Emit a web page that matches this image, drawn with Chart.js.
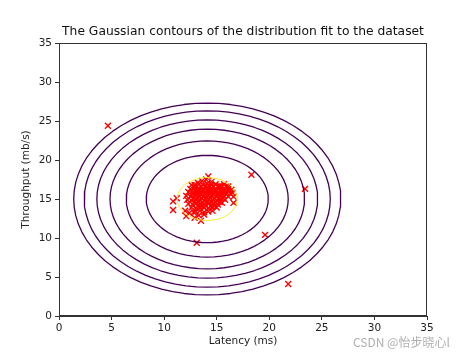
<!DOCTYPE html>
<html>
<head>
<meta charset="utf-8">
<script src="https://cdn.jsdelivr.net/npm/chart.js@4.4.0/dist/chart.umd.min.js"></script>
<style>
  html, body { margin: 0; padding: 0; background: #fff; }
  #wrap { width: 474px; height: 355px; position: relative; }
</style>
</head>
<body>
<div id="wrap"><canvas id="chart"></canvas></div>
<script>
// Axis ticks
const xTicks = [0, 5, 10, 15, 20, 25, 30, 35];
const yTicks = [0, 5, 10, 15, 20, 25, 30, 35];

// Samples (latency ms / throughput mb/s)
const latency = [
  4.65, 18.3, 23.4, 19.6, 21.8, 13.1, 10.85, 10.85, 11.2, 12.0, 12.1, 12.9, 13.5, 16.6, 16.6, 16.5, 12.6, 14.2,
  13.6, 14.0, 14.5, 13.2,
  12.9, 13.3, 13.7, 14.1, 14.5, 14.9, 15.3, 15.7, 16.1,
  13.1, 13.5, 13.9, 14.3, 14.7, 15.1, 15.5, 15.9,
  12.5, 12.9, 13.3, 13.7, 14.1, 14.5, 14.9, 15.3, 15.7, 16.1, 16.4,
  12.9, 13.3, 13.7, 14.1, 14.5, 14.9, 15.3, 15.7, 16.1,
  12.3, 12.7, 13.1, 13.5, 13.9, 14.3, 14.7, 15.1, 15.5, 15.9, 16.3,
  12.7, 13.1, 13.5, 13.9, 14.3, 14.7, 15.1, 15.5, 15.9,
  12.1, 12.5, 12.9, 13.3, 13.7, 14.1, 14.5, 14.9, 15.3, 15.7, 16.1,
  12.8, 13.2, 13.6, 14.0, 14.4, 14.8, 15.2, 15.6,
  12.2, 12.6, 13.0, 13.4, 13.8, 14.2, 14.6, 15.0, 15.4, 15.8,
  12.9, 13.3, 13.7, 14.1, 14.5, 14.9, 15.3,
  12.3, 12.7, 13.1, 13.5, 13.9, 14.3, 14.7, 15.1, 15.5,
  13.2, 13.6, 14.0, 14.4, 14.8,
  12.6, 13.0, 13.4, 13.8, 14.2, 14.6, 15.0,
  12.8, 13.0, 13.4, 13.8, 14.2, 14.6,
  13.3, 13.8, 12.4
];
const throughput = [
  24.4, 18.1, 16.3, 10.4, 4.1, 9.4, 14.7, 13.6, 15.1, 13.5, 12.8, 12.6, 12.2, 15.3, 14.5, 15.8, 16.8, 17.9,
  17.3, 17.5, 17.2, 17.1,
  16.8, 16.9, 16.8, 17.0, 16.8, 16.9, 16.7, 16.9, 16.6,
  16.6, 16.6, 16.6, 16.6, 16.6, 16.6, 16.6, 16.6,
  16.3, 16.5, 16.4, 16.3, 16.5, 16.4, 16.3, 16.5, 16.4, 16.3, 16.2,
  16.1, 16.1, 16.1, 16.1, 16.1, 16.1, 16.1, 16.1, 16.1,
  15.9, 15.8, 16.0, 15.9, 15.8, 16.0, 15.9, 15.8, 16.0, 15.9, 15.7,
  15.6, 15.6, 15.6, 15.6, 15.6, 15.6, 15.6, 15.6, 15.6,
  15.4, 15.3, 15.5, 15.4, 15.3, 15.5, 15.4, 15.3, 15.5, 15.4, 15.3,
  15.1, 15.1, 15.1, 15.1, 15.1, 15.1, 15.1, 15.1,
  14.9, 14.8, 15.0, 14.9, 14.8, 15.0, 14.9, 14.8, 15.0, 14.9,
  14.6, 14.6, 14.6, 14.6, 14.6, 14.6, 14.6,
  14.4, 14.3, 14.5, 14.4, 14.3, 14.5, 14.4, 14.3, 14.5,
  14.1, 14.1, 14.1, 14.1, 14.1,
  13.9, 13.8, 14.0, 13.9, 13.8, 14.0, 13.9,
  13.3, 13.4, 13.5, 13.3, 13.4, 13.5,
  12.9, 13.0, 13.2
];

// Contour rings: centre and half-widths
const contourCenter = [14.1, 15.0];
const contourRx = [12.7, 11.7, 10.5, 9.25, 7.7, 5.8, 2.85];
const contourRy = [12.3, 11.3, 10.15, 8.95, 7.45, 5.6, 2.75];
const contourColors = ['#440154', '#440154', '#440154', '#440154', '#440154', '#440154', '#fde725'];

function ringPoints(rx, ry) {
  const pts = [];
  for (let i = 0; i <= 72; i++) {
    const a = (i / 72) * Math.PI * 2 + Math.PI / 2;
    pts.push({ x: contourCenter[0] + rx * Math.cos(a), y: contourCenter[1] + ry * Math.sin(a) });
  }
  return pts;
}

const datasets = [];
contourRx.forEach((rx, i) => {
  datasets.push({
    type: 'line',
    data: ringPoints(rx, contourRy[i]),
    borderColor: contourColors[i],
    borderWidth: i === contourRx.length - 1 ? 1 : 1.3,
    borderCapStyle: 'round',
    borderJoinStyle: 'round',
    pointRadius: 0,
    fill: false,
    tension: 0,
    order: 0
  });
});
datasets.push({
  type: 'scatter',
  data: latency.map((x, i) => ({ x: x, y: throughput[i] })),
  pointStyle: 'crossRot',
  pointRadius: 4.2,
  borderColor: '#ff0000',
  backgroundColor: '#ff0000',
  borderWidth: 1.4,
  order: 1
});

// Title, frame and watermark
const decorations = {
  id: 'decorations',
  afterDraw(chart) {
    const ctx = chart.ctx;
    const area = chart.chartArea;
    ctx.save();
    ctx.strokeStyle = '#333';
    ctx.lineWidth = 1;
    ctx.strokeRect(area.left + 0.5, area.top + 0.5, area.right - area.left - 1, area.bottom - area.top - 1);
    ctx.fillStyle = '#111';
    ctx.font = '12.3px "DejaVu Sans"';
    ctx.textAlign = 'center';
    ctx.textBaseline = 'middle';
    ctx.fillText('The Gaussian contours of the distribution fit to the dataset', (area.left + area.right) / 2, 32);
    ctx.fillStyle = 'rgba(160,160,160,0.85)';
    ctx.font = '12px "Noto Sans CJK SC"';
    ctx.textAlign = 'left';
    ctx.fillText('CSDN @怡步晓心l', 353, 342);
    ctx.restore();
  }
};

const tickFont = { family: 'DejaVu Sans', size: 10.5 };

new Chart(document.getElementById('chart'), {
  data: { datasets: datasets },
  options: {
    responsive: true,
    maintainAspectRatio: false,
    animation: false,
    layout: { padding: { left: 0, right: 47, top: 43, bottom: 0 } },
    plugins: {
      legend: { display: false },
      tooltip: { enabled: false }
    },
    scales: {
      x: {
        type: 'linear',
        min: 0,
        max: 35,
        afterBuildTicks: (scale) => { scale.ticks = xTicks.map(v => ({ value: v })); },
        afterFit: (scale) => { scale.height = 39; },
        ticks: { color: '#222', font: tickFont, padding: 2 },
        grid: { drawOnChartArea: false, drawTicks: true, tickLength: 4, tickColor: '#333' },
        border: { display: true, color: '#333' },
        title: { display: true, text: 'Latency (ms)', color: '#222', font: tickFont, padding: { top: 0, bottom: 7.5 } }
      },
      y: {
        type: 'linear',
        min: 0,
        max: 35,
        afterBuildTicks: (scale) => { scale.ticks = yTicks.map(v => ({ value: v })); },
        afterFit: (scale) => { scale.width = 59; },
        ticks: { color: '#222', font: tickFont, padding: 3 },
        grid: { drawOnChartArea: false, drawTicks: true, tickLength: 4, tickColor: '#333' },
        border: { display: true, color: '#333' },
        title: { display: true, text: 'Throughput (mb/s)', color: '#222', font: tickFont, padding: { top: 19.5, bottom: 0 } }
      }
    }
  },
  plugins: [decorations]
});
</script>
</body>
</html>
